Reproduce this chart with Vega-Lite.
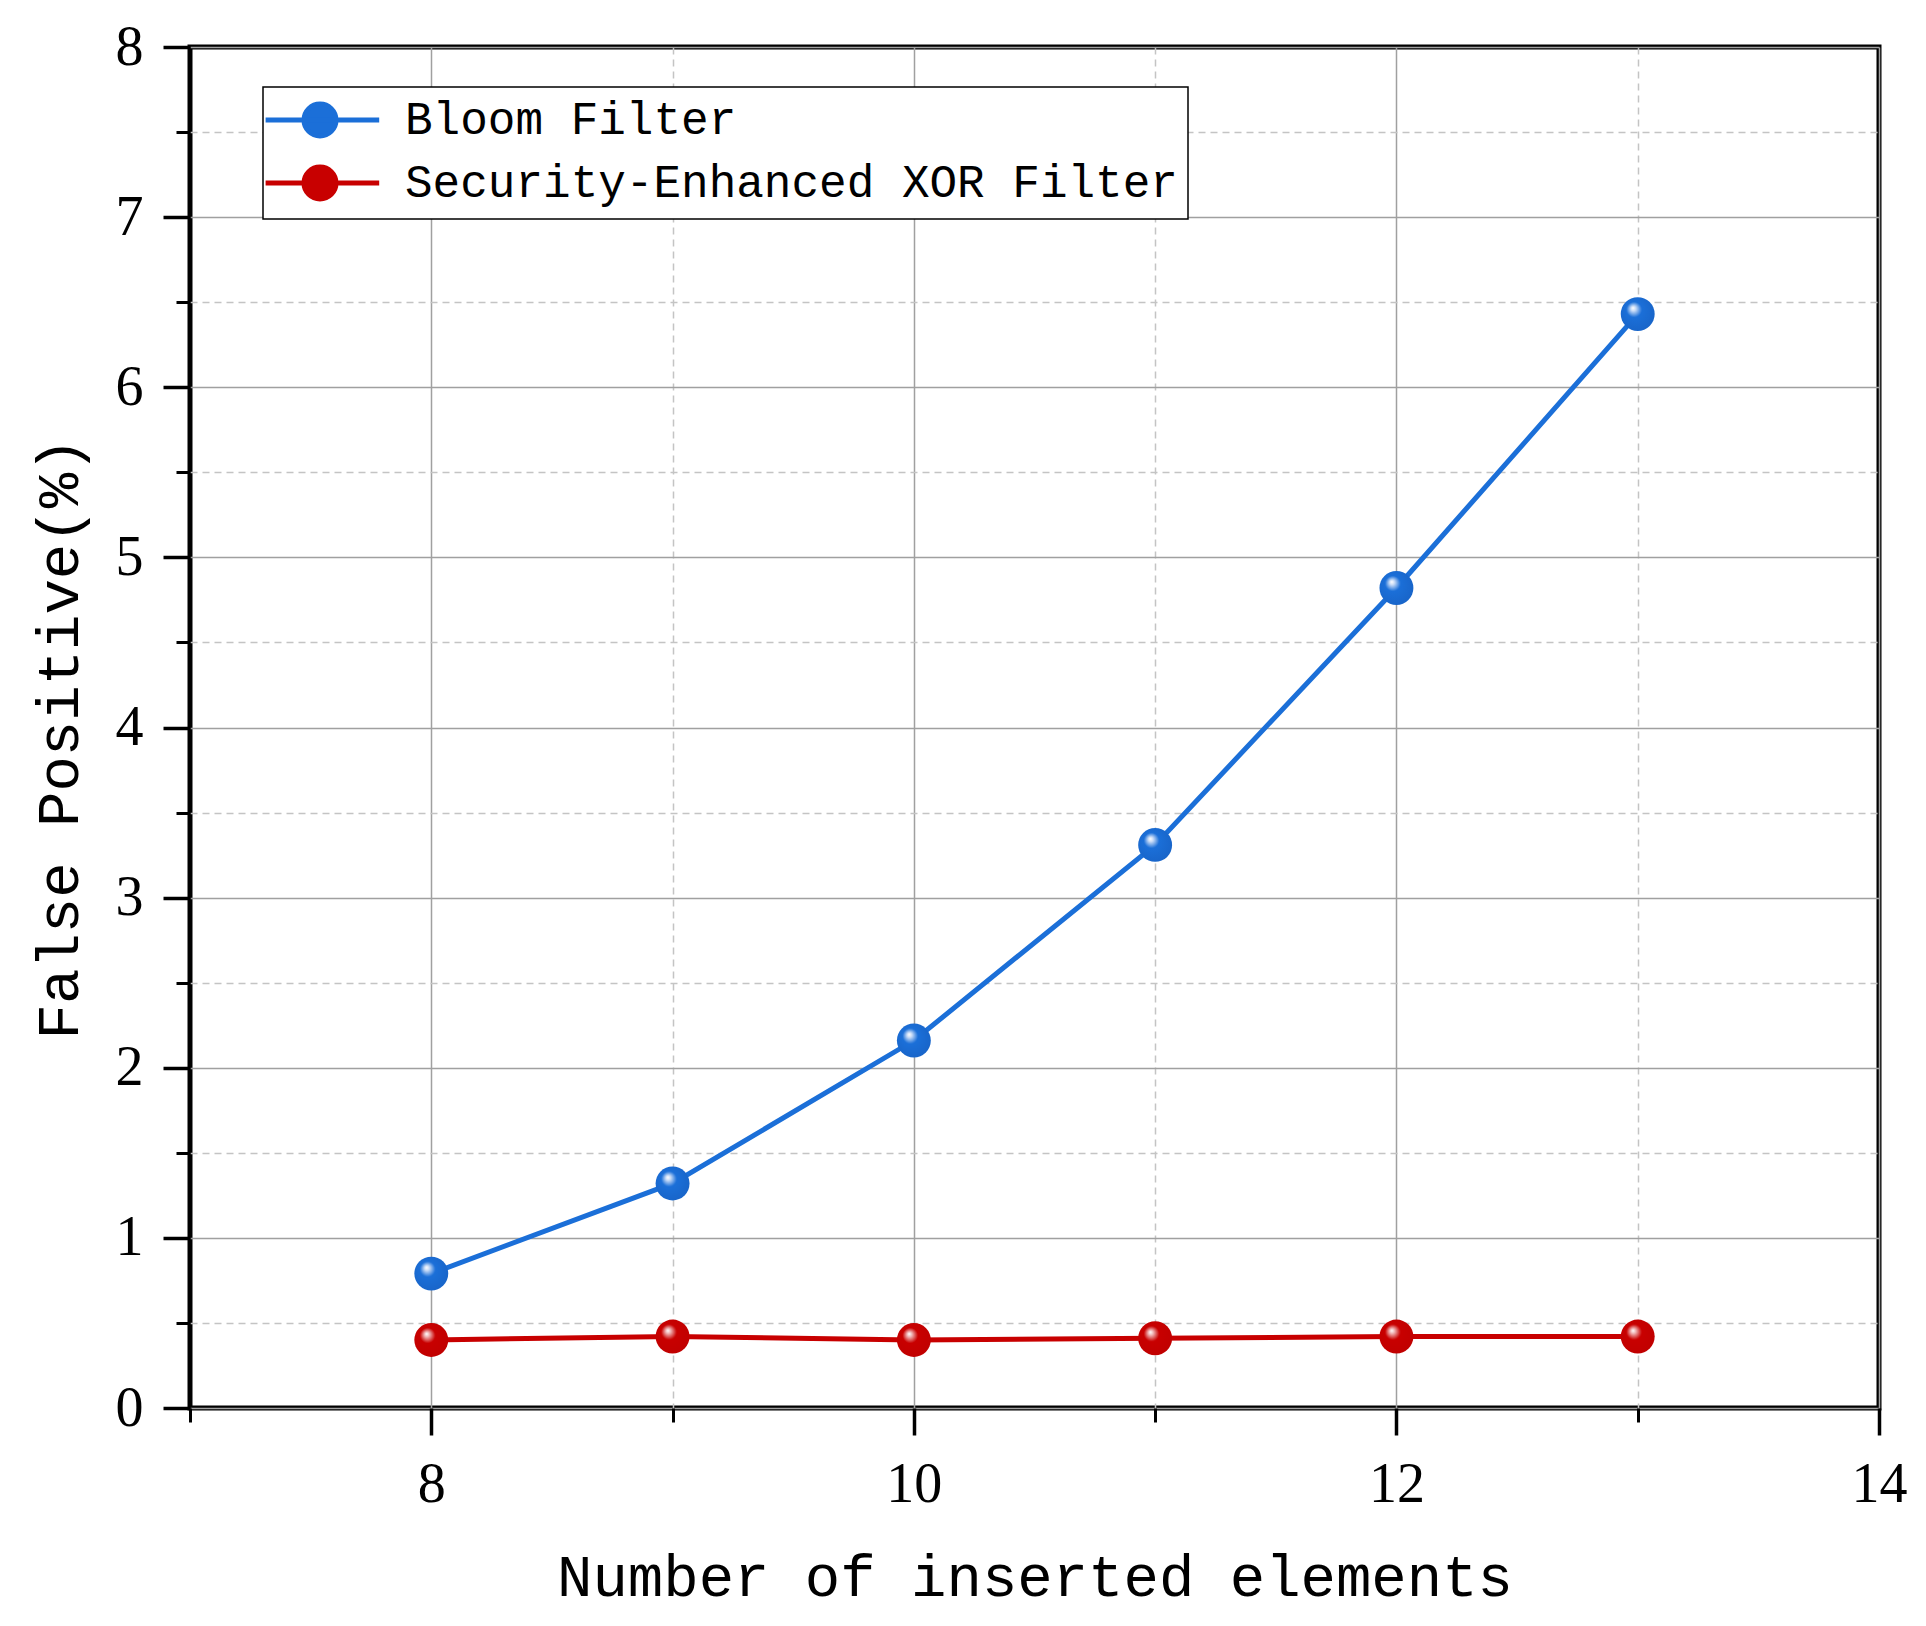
{
  "$schema": "https://vega.github.io/schema/vega-lite/v6.json",
  "description": "False positive rate of Bloom filter vs security-enhanced XOR filter.",
  "width": 1689,
  "height": 1361,
  "autosize": "none",
  "padding": {"left": 190, "top": 47, "right": 47, "bottom": 218},
  "background": "white",
  "data": {
    "values": [
      {"n": 8, "series": "Bloom Filter", "fp": 0.79},
      {"n": 9, "series": "Bloom Filter", "fp": 1.32},
      {"n": 10, "series": "Bloom Filter", "fp": 2.16},
      {"n": 11, "series": "Bloom Filter", "fp": 3.31},
      {"n": 12, "series": "Bloom Filter", "fp": 4.82},
      {"n": 13, "series": "Bloom Filter", "fp": 6.43},
      {"n": 8, "series": "Security-Enhanced XOR Filter", "fp": 0.40},
      {"n": 9, "series": "Security-Enhanced XOR Filter", "fp": 0.42},
      {"n": 10, "series": "Security-Enhanced XOR Filter", "fp": 0.40},
      {"n": 11, "series": "Security-Enhanced XOR Filter", "fp": 0.41},
      {"n": 12, "series": "Security-Enhanced XOR Filter", "fp": 0.42},
      {"n": 13, "series": "Security-Enhanced XOR Filter", "fp": 0.42}
    ]
  },
  "resolve": {"axis": {"x": "independent", "y": "independent"}},
  "layer": [
    {
      "mark": {"type": "line", "strokeWidth": 5},
      "encoding": {
        "x": {
          "field": "n", "type": "quantitative",
          "scale": {"domain": [7, 14], "nice": false, "zero": false},
          "axis": {
            "orient": "bottom",
            "values": [8, 10, 12, 14],
            "grid": true, "gridColor": "#a0a0a0", "gridWidth": 1.5,
            "domain": false,
            "tickSize": 27, "tickWidth": 3.5, "tickColor": "black",
            "labelFont": "Liberation Serif", "labelFontSize": 56, "labelColor": "black",
            "labelPadding": 22, "labelFlush": false, "labelOverlap": false,
            "title": "Number of inserted elements",
            "titleFont": "Liberation Mono", "titleFontSize": 59, "titleFontWeight": "normal",
            "titleColor": "black", "titleY": 187, "titleBaseline": "alphabetic"
          }
        },
        "y": {
          "field": "fp", "type": "quantitative",
          "scale": {"domain": [0, 8], "nice": false},
          "axis": {
            "orient": "left",
            "values": [0, 1, 2, 3, 4, 5, 6, 7, 8],
            "grid": true, "gridColor": "#a0a0a0", "gridWidth": 1.5,
            "domain": false,
            "tickSize": 27, "tickWidth": 3.5, "tickColor": "black",
            "labelFont": "Liberation Serif", "labelFontSize": 56, "labelColor": "black",
            "labelPadding": 20, "labelFlush": false, "labelOverlap": false,
            "title": "False Positive(%)",
            "titleFont": "Liberation Mono", "titleFontSize": 59, "titleFontWeight": "normal",
            "titleColor": "black", "titleX": -131, "titleY": 691, "titleBaseline": "middle"
          }
        },
        "color": {
          "field": "series", "type": "nominal",
          "scale": {
            "domain": ["Bloom Filter", "Security-Enhanced XOR Filter"],
            "range": ["#1b6fd8", "#c80000"]
          },
          "legend": {
            "title": null,
            "orient": "none", "legendX": 73, "legendY": 40,
            "direction": "vertical",
            "symbolType": "M-1.9,0H5.2M2.5,0A1,1 0 1 1 0.5,0A1,1 0 1 1 2.5,0",
            "symbolSize": 1024, "symbolStrokeWidth": 5,
            "labelFont": "Liberation Mono", "labelFontSize": 46, "labelColor": "black",
            "labelOffset": 86, "labelLimit": 2000,
            "padding": 10, "rowPadding": 11,
            "strokeColor": "black", "fillColor": "white",
            "encode": {
              "symbols": {
                "update": {
                  "fill": {"scale": "color", "field": "value"},
                  "stroke": {"scale": "color", "field": "value"},
                  "opacity": {"value": 1}
                }
              }
            }
          }
        }
      }
    },
    {
      "transform": [{"filter": "datum.series == 'Bloom Filter'"}],
      "mark": {
        "type": "point", "shape": "circle", "filled": true, "size": 1150, "opacity": 1, "strokeWidth": 0,
        "fill": {
          "gradient": "radial",
          "x1": 0.36, "y1": 0.32, "r1": 0,
          "x2": 0.45, "y2": 0.45, "r2": 0.6,
          "stops": [
            {"offset": 0, "color": "#ffffff"},
            {"offset": 0.12, "color": "#c9dcf7"},
            {"offset": 0.38, "color": "#1b6fd8"},
            {"offset": 1, "color": "#1864c8"}
          ]
        }
      },
      "encoding": {
        "x": {
          "field": "n", "type": "quantitative",
          "scale": {"domain": [7, 14], "nice": false, "zero": false},
          "axis": {
            "orient": "bottom",
            "values": [7, 9, 11, 13],
            "grid": true, "gridColor": "#c4c4c4", "gridWidth": 1.5, "gridDash": [7, 5],
            "gridOpacity": {"condition": {"test": "datum.value == 7", "value": 0}, "value": 1},
            "domain": false, "labels": false, "title": null,
            "tickSize": 14, "tickWidth": 3, "tickColor": "black"
          }
        },
        "y": {
          "field": "fp", "type": "quantitative",
          "scale": {"domain": [0, 8], "nice": false},
          "axis": {
            "orient": "left",
            "values": [0.5, 1.5, 2.5, 3.5, 4.5, 5.5, 6.5, 7.5],
            "grid": true, "gridColor": "#c4c4c4", "gridWidth": 1.5, "gridDash": [7, 5],
            "domain": false, "labels": false, "title": null,
            "tickSize": 14, "tickWidth": 3, "tickColor": "black"
          }
        }
      }
    },
    {
      "transform": [{"filter": "datum.series == 'Security-Enhanced XOR Filter'"}],
      "mark": {
        "type": "point", "shape": "circle", "filled": true, "size": 1150, "opacity": 1, "strokeWidth": 0,
        "fill": {
          "gradient": "radial",
          "x1": 0.36, "y1": 0.32, "r1": 0,
          "x2": 0.45, "y2": 0.45, "r2": 0.6,
          "stops": [
            {"offset": 0, "color": "#ffffff"},
            {"offset": 0.12, "color": "#f0b8b8"},
            {"offset": 0.38, "color": "#c80000"},
            {"offset": 1, "color": "#c00000"}
          ]
        }
      },
      "encoding": {
        "x": {"field": "n", "type": "quantitative", "scale": {"domain": [7, 14], "nice": false, "zero": false}, "axis": null},
        "y": {"field": "fp", "type": "quantitative", "scale": {"domain": [0, 8], "nice": false}, "axis": null}
      }
    }
  ],
  "config": {
    "view": {"stroke": "black", "strokeWidth": 5},
    "legend": {"strokeWidth": 1.5}
  }
}
